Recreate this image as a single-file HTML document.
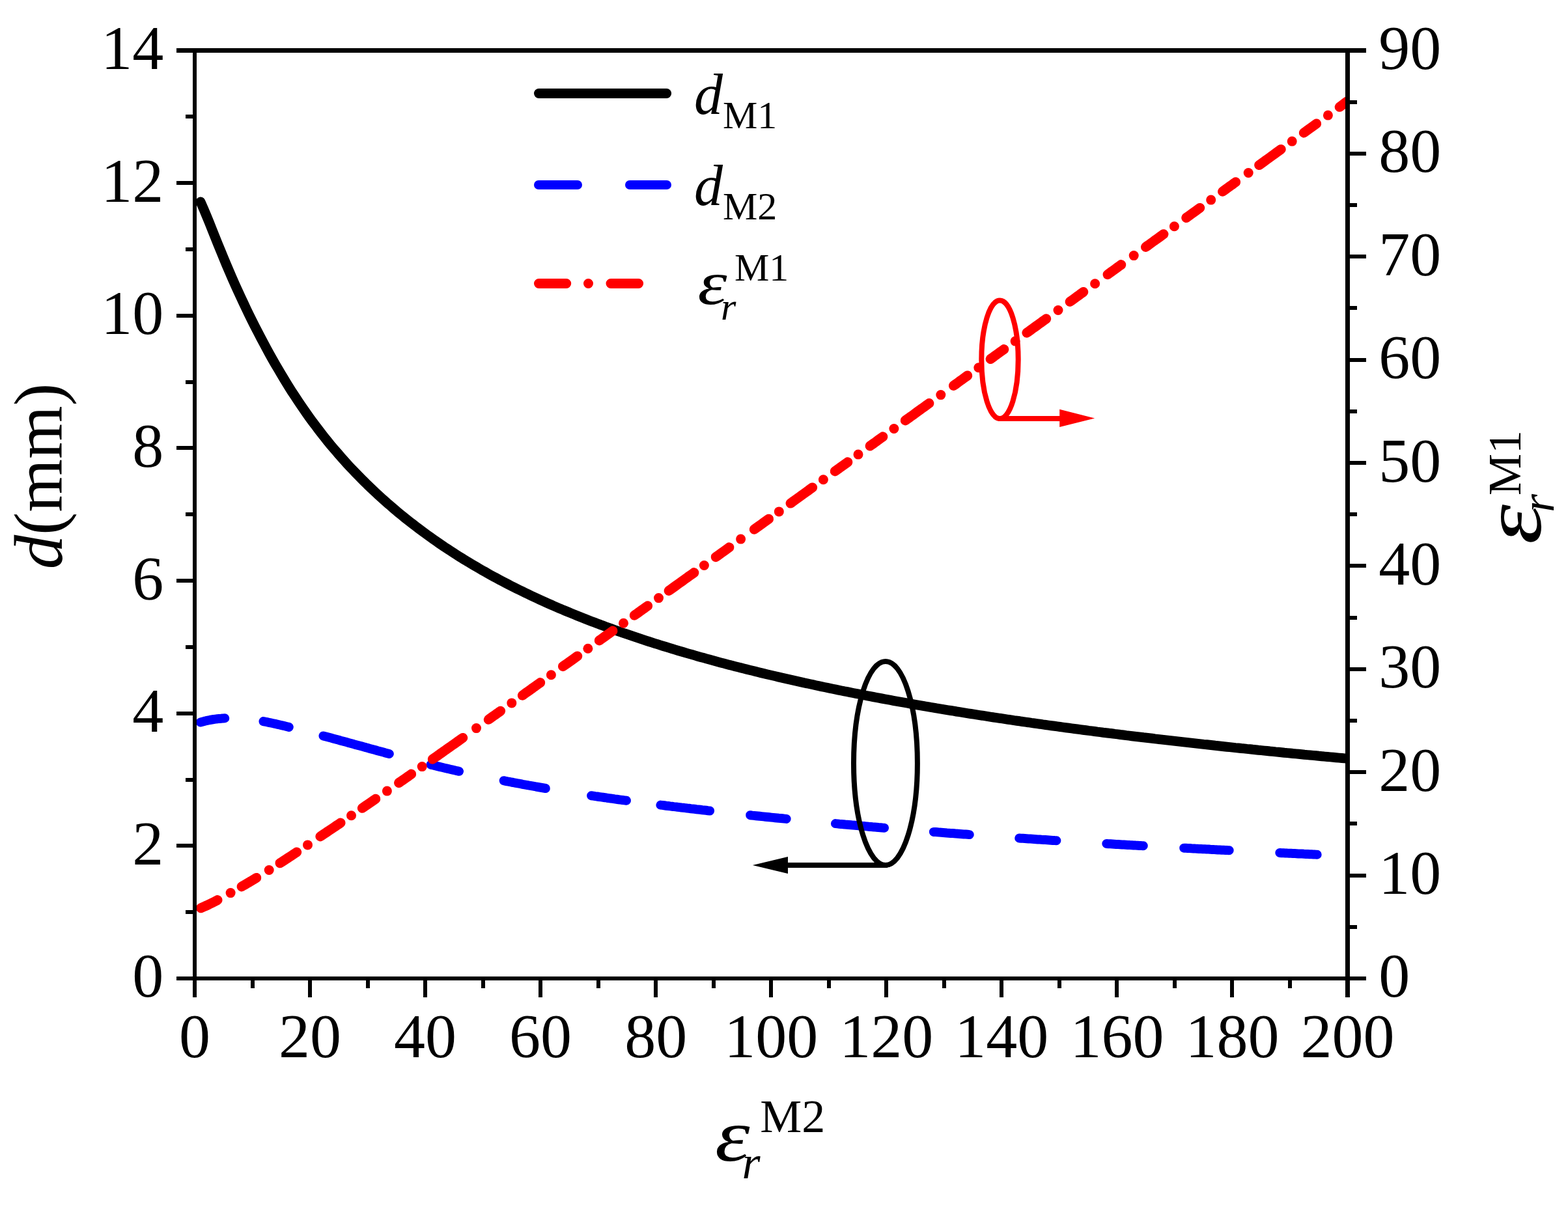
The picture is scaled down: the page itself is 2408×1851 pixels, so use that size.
<!DOCTYPE html>
<html><head><meta charset="utf-8"><title>d and epsilon vs epsilon_r M2</title>
<style>
html,body{margin:0;padding:0;background:#fff;overflow:hidden;}
svg{display:block;}
text{font-family:"Liberation Serif","Times New Roman",serif;fill:#000;}
.it{font-style:italic;}
</style></head><body>
<svg width="2408" height="1851" viewBox="0 0 2408 1851">
<rect x="0" y="0" width="2408" height="1851" fill="#fff"/>
<defs><clipPath id="plot"><rect x="299.0" y="77.5" width="1770.5" height="1425.5"/></clipPath></defs>

<g clip-path="url(#plot)" fill="none" stroke-linecap="round" stroke-linejoin="round" stroke-width="15">
<path stroke="#000" d="M307.9,310.1 L312.3,320.1 L316.7,330.5 L321.1,341.2 L325.5,352.2 L329.9,363.2 L334.3,374.3 L338.8,385.2 L343.2,395.9 L347.6,406.5 L352.0,416.8 L356.4,427.0 L360.8,437.0 L365.2,446.7 L369.7,456.4 L374.1,465.8 L378.5,475.1 L382.9,484.2 L387.3,493.1 L391.7,501.9 L396.2,510.5 L400.6,519.0 L405.0,527.3 L409.4,535.5 L413.8,543.6 L418.2,551.5 L422.6,559.2 L427.1,566.8 L431.5,574.3 L435.9,581.7 L440.3,588.9 L444.7,595.9 L449.1,602.9 L453.6,609.7 L458.0,616.3 L462.4,622.9 L466.8,629.3 L471.2,635.6 L475.6,641.8 L480.0,647.9 L484.5,653.8 L488.9,659.6 L493.3,665.3 L497.7,671.0 L502.1,676.5 L506.5,681.9 L510.9,687.2 L515.4,692.4 L519.8,697.5 L524.2,702.6 L528.6,707.5 L533.0,712.4 L537.4,717.2 L541.9,721.9 L546.3,726.5 L550.7,731.0 L555.1,735.5 L559.5,739.9 L563.9,744.3 L568.3,748.5 L572.8,752.7 L577.2,756.9 L581.6,761.0 L586.0,765.0 L590.4,768.9 L594.8,772.8 L599.3,776.7 L603.7,780.5 L608.1,784.2 L612.5,787.9 L616.9,791.5 L621.3,795.1 L625.7,798.6 L630.2,802.1 L634.6,805.5 L639.0,808.9 L643.4,812.3 L647.8,815.6 L652.2,818.8 L656.6,822.0 L661.1,825.2 L665.5,828.3 L669.9,831.4 L674.3,834.5 L678.7,837.5 L683.1,840.5 L687.6,843.4 L692.0,846.3 L696.4,849.1 L700.8,852.0 L705.2,854.8 L709.6,857.5 L714.0,860.3 L718.5,862.9 L722.9,865.6 L727.3,868.2 L731.7,870.8 L736.1,873.4 L740.5,875.9 L745.0,878.4 L749.4,880.9 L753.8,883.4 L758.2,885.8 L762.6,888.2 L767.0,890.6 L771.4,892.9 L775.9,895.2 L780.3,897.5 L784.7,899.8 L789.1,902.0 L793.5,904.2 L797.9,906.4 L802.4,908.6 L806.8,910.7 L811.2,912.8 L815.6,914.9 L820.0,917.0 L824.4,919.1 L828.8,921.1 L833.3,923.1 L837.7,925.1 L842.1,927.1 L846.5,929.0 L850.9,931.0 L855.3,932.9 L859.7,934.8 L864.2,936.6 L868.6,938.5 L873.0,940.3 L877.4,942.1 L881.8,943.9 L886.2,945.7 L890.7,947.5 L895.1,949.2 L899.5,951.0 L903.9,952.7 L908.3,954.4 L912.7,956.1 L917.1,957.8 L921.6,959.4 L926.0,961.1 L930.4,962.7 L934.8,964.3 L939.2,965.9 L943.6,967.5 L948.1,969.1 L952.5,970.6 L956.9,972.2 L961.3,973.7 L965.7,975.2 L970.1,976.7 L974.5,978.2 L979.0,979.7 L983.4,981.2 L987.8,982.6 L992.2,984.1 L996.6,985.5 L1001.0,986.9 L1005.4,988.3 L1009.9,989.7 L1014.3,991.1 L1018.7,992.5 L1023.1,993.8 L1027.5,995.2 L1031.9,996.5 L1036.4,997.9 L1040.8,999.2 L1045.2,1000.5 L1049.6,1001.8 L1054.0,1003.1 L1058.4,1004.4 L1062.8,1005.6 L1067.3,1006.9 L1071.7,1008.2 L1076.1,1009.4 L1080.5,1010.6 L1084.9,1011.9 L1089.3,1013.1 L1093.8,1014.3 L1098.2,1015.5 L1102.6,1016.7 L1107.0,1017.9 L1111.4,1019.0 L1115.8,1020.2 L1120.2,1021.4 L1124.7,1022.5 L1129.1,1023.7 L1133.5,1024.8 L1137.9,1025.9 L1142.3,1027.0 L1146.7,1028.1 L1151.1,1029.2 L1155.6,1030.3 L1160.0,1031.4 L1164.4,1032.5 L1168.8,1033.6 L1173.2,1034.6 L1177.6,1035.7 L1182.1,1036.8 L1186.5,1037.8 L1190.9,1038.8 L1195.3,1039.9 L1199.7,1040.9 L1204.1,1041.9 L1208.5,1042.9 L1213.0,1043.9 L1217.4,1044.9 L1221.8,1045.9 L1226.2,1046.9 L1230.6,1047.9 L1235.0,1048.9 L1239.5,1049.8 L1243.9,1050.8 L1248.3,1051.7 L1252.7,1052.7 L1257.1,1053.6 L1261.5,1054.6 L1265.9,1055.5 L1270.4,1056.4 L1274.8,1057.3 L1279.2,1058.3 L1283.6,1059.2 L1288.0,1060.1 L1292.4,1061.0 L1296.8,1061.9 L1301.3,1062.7 L1305.7,1063.6 L1310.1,1064.5 L1314.5,1065.4 L1318.9,1066.2 L1323.3,1067.1 L1327.8,1068.0 L1332.2,1068.8 L1336.6,1069.7 L1341.0,1070.5 L1345.4,1071.3 L1349.8,1072.2 L1354.2,1073.0 L1358.7,1073.8 L1363.1,1074.6 L1367.5,1075.4 L1371.9,1076.3 L1376.3,1077.1 L1380.7,1077.9 L1385.2,1078.7 L1389.6,1079.4 L1394.0,1080.2 L1398.4,1081.0 L1402.8,1081.8 L1407.2,1082.6 L1411.6,1083.3 L1416.1,1084.1 L1420.5,1084.9 L1424.9,1085.6 L1429.3,1086.4 L1433.7,1087.1 L1438.1,1087.9 L1442.5,1088.6 L1447.0,1089.3 L1451.4,1090.1 L1455.8,1090.8 L1460.2,1091.5 L1464.6,1092.2 L1469.0,1093.0 L1473.5,1093.7 L1477.9,1094.4 L1482.3,1095.1 L1486.7,1095.8 L1491.1,1096.5 L1495.5,1097.2 L1499.9,1097.9 L1504.4,1098.6 L1508.8,1099.2 L1513.2,1099.9 L1517.6,1100.6 L1522.0,1101.3 L1526.4,1102.0 L1530.9,1102.6 L1535.3,1103.3 L1539.7,1103.9 L1544.1,1104.6 L1548.5,1105.3 L1552.9,1105.9 L1557.3,1106.6 L1561.8,1107.2 L1566.2,1107.8 L1570.6,1108.5 L1575.0,1109.1 L1579.4,1109.7 L1583.8,1110.4 L1588.2,1111.0 L1592.7,1111.6 L1597.1,1112.2 L1601.5,1112.9 L1605.9,1113.5 L1610.3,1114.1 L1614.7,1114.7 L1619.2,1115.3 L1623.6,1115.9 L1628.0,1116.5 L1632.4,1117.1 L1636.8,1117.7 L1641.2,1118.3 L1645.6,1118.9 L1650.1,1119.5 L1654.5,1120.0 L1658.9,1120.6 L1663.3,1121.2 L1667.7,1121.8 L1672.1,1122.4 L1676.6,1122.9 L1681.0,1123.5 L1685.4,1124.1 L1689.8,1124.6 L1694.2,1125.2 L1698.6,1125.7 L1703.0,1126.3 L1707.5,1126.8 L1711.9,1127.4 L1716.3,1127.9 L1720.7,1128.5 L1725.1,1129.0 L1729.5,1129.6 L1733.9,1130.1 L1738.4,1130.7 L1742.8,1131.2 L1747.2,1131.7 L1751.6,1132.2 L1756.0,1132.8 L1760.4,1133.3 L1764.9,1133.8 L1769.3,1134.3 L1773.7,1134.9 L1778.1,1135.4 L1782.5,1135.9 L1786.9,1136.4 L1791.3,1136.9 L1795.8,1137.4 L1800.2,1137.9 L1804.6,1138.4 L1809.0,1138.9 L1813.4,1139.4 L1817.8,1139.9 L1822.3,1140.4 L1826.7,1140.9 L1831.1,1141.4 L1835.5,1141.9 L1839.9,1142.4 L1844.3,1142.9 L1848.7,1143.4 L1853.2,1143.8 L1857.6,1144.3 L1862.0,1144.8 L1866.4,1145.3 L1870.8,1145.7 L1875.2,1146.2 L1879.6,1146.7 L1884.1,1147.2 L1888.5,1147.6 L1892.9,1148.1 L1897.3,1148.6 L1901.7,1149.0 L1906.1,1149.5 L1910.6,1149.9 L1915.0,1150.4 L1919.4,1150.8 L1923.8,1151.3 L1928.2,1151.7 L1932.6,1152.2 L1937.0,1152.6 L1941.5,1153.1 L1945.9,1153.5 L1950.3,1154.0 L1954.7,1154.4 L1959.1,1154.9 L1963.5,1155.3 L1968.0,1155.7 L1972.4,1156.2 L1976.8,1156.6 L1981.2,1157.0 L1985.6,1157.5 L1990.0,1157.9 L1994.4,1158.3 L1998.9,1158.7 L2003.3,1159.2 L2007.7,1159.6 L2012.1,1160.0 L2016.5,1160.4 L2020.9,1160.8 L2025.3,1161.3 L2029.8,1161.7 L2034.2,1162.1 L2038.6,1162.5 L2043.0,1162.9 L2047.4,1163.3 L2051.8,1163.7 L2056.3,1164.1 L2060.7,1164.5 L2065.1,1164.9 L2069.5,1165.3"/>
<g stroke="#0000ff" stroke-width="14">
<path d="M307.8,1109.5 L310.7,1108.7 L313.6,1107.9 L316.5,1107.2 L319.3,1106.6 L322.2,1106.0 L325.1,1105.5 L328.0,1105.0 L330.9,1104.6 L333.8,1104.2 L336.6,1103.9 L339.5,1103.7 L342.4,1103.4 L345.3,1103.3"/>
<path d="M404.4,1108.1 L407.2,1108.7 L410.0,1109.2 L412.8,1109.8 L415.7,1110.4 L418.5,1111.0 L421.3,1111.6 L424.1,1112.2 L426.9,1112.9 L429.7,1113.5 L432.5,1114.2 L435.4,1114.8 L438.2,1115.5 L441.0,1116.2 L443.8,1116.9"/>
<path d="M496.5,1130.4 L499.5,1131.2 L502.5,1132.0 L505.4,1132.8 L508.4,1133.6 L511.4,1134.4 L514.4,1135.2 L517.4,1136.0 L520.3,1136.8 L523.3,1137.7 L526.3,1138.5 L529.3,1139.3 L532.3,1140.1 L535.2,1140.9 L538.2,1141.7 L541.2,1142.5 L544.2,1143.4 L547.1,1144.2 L550.1,1145.0 L553.1,1145.8 L556.1,1146.6 L559.1,1147.4 L562.0,1148.3 L565.0,1149.1 L568.0,1149.9 L571.0,1150.7 L574.0,1151.5 L576.9,1152.3 L579.9,1153.2 L582.9,1154.0 L585.9,1154.8 L588.9,1155.6 L591.8,1156.4 L594.8,1157.2 L597.8,1158.0"/>
<path d="M661.5,1174.6 L664.4,1175.3 L667.3,1176.0 L670.2,1176.7 L673.1,1177.4 L676.0,1178.1 L678.9,1178.8 L681.8,1179.5 L684.7,1180.2 L687.6,1180.8 L690.5,1181.5 L693.4,1182.2 L696.3,1182.8 L699.2,1183.5 L702.1,1184.2 L705.0,1184.8"/>
<path d="M773.6,1199.2 L776.5,1199.8 L779.4,1200.4 L782.4,1200.9 L785.3,1201.5 L788.2,1202.0 L791.1,1202.6 L794.1,1203.2 L797.0,1203.7 L799.9,1204.2 L802.8,1204.8 L805.8,1205.3 L808.7,1205.8 L811.6,1206.4 L814.5,1206.9 L817.4,1207.4 L820.4,1207.9 L823.3,1208.5 L826.2,1209.0 L829.1,1209.5 L832.1,1210.0 L835.0,1210.5 L837.9,1211.0"/>
<path d="M908.1,1222.2 L911.1,1222.6 L914.1,1223.1 L917.1,1223.5 L920.1,1224.0 L923.1,1224.4 L926.1,1224.8 L929.1,1225.2 L932.1,1225.7 L935.0,1226.1 L938.0,1226.5 L941.0,1226.9 L944.0,1227.4 L947.0,1227.8 L950.0,1228.2 L953.0,1228.6 L956.0,1229.0 L959.0,1229.4 L962.0,1229.8"/>
<path d="M1014.4,1236.6 L1017.3,1236.9 L1020.2,1237.3 L1023.1,1237.7 L1026.0,1238.0 L1029.0,1238.4 L1031.9,1238.7 L1034.8,1239.1 L1037.7,1239.4 L1040.6,1239.8 L1043.5,1240.1 L1046.4,1240.5 L1049.3,1240.8 L1052.2,1241.1 L1055.2,1241.5 L1058.1,1241.8 L1061.0,1242.2 L1063.9,1242.5 L1066.8,1242.8 L1069.7,1243.2 L1072.6,1243.5 L1075.5,1243.8 L1078.5,1244.2 L1081.4,1244.5 L1084.3,1244.8 L1087.2,1245.2 L1090.1,1245.5"/>
<path d="M1152.2,1252.2 L1155.1,1252.6 L1158.0,1252.9 L1161.0,1253.2 L1163.9,1253.5 L1166.8,1253.8 L1169.7,1254.1 L1172.6,1254.4 L1175.6,1254.7 L1178.5,1255.0 L1181.4,1255.3 L1184.3,1255.6 L1187.3,1255.9 L1190.2,1256.2 L1193.1,1256.5 L1196.0,1256.8 L1198.9,1257.0 L1201.9,1257.3 L1204.8,1257.6 L1207.7,1257.9"/>
<path d="M1283.0,1265.1 L1286.0,1265.4 L1289.0,1265.7 L1292.0,1265.9 L1295.0,1266.2 L1298.0,1266.5 L1301.0,1266.7 L1304.0,1267.0 L1307.0,1267.3 L1310.0,1267.6 L1313.0,1267.8 L1316.0,1268.1 L1319.0,1268.4 L1322.0,1268.6 L1325.0,1268.9 L1328.0,1269.1 L1331.0,1269.4 L1334.0,1269.7 L1337.0,1269.9 L1340.0,1270.2 L1343.0,1270.4 L1346.0,1270.7 L1349.0,1271.0 L1352.0,1271.2 L1355.0,1271.5 L1358.0,1271.7"/>
<path d="M1433.9,1277.9 L1436.8,1278.1 L1439.7,1278.3 L1442.6,1278.6 L1445.5,1278.8 L1448.3,1279.0 L1451.2,1279.2 L1454.1,1279.5 L1457.0,1279.7 L1459.9,1279.9 L1462.8,1280.1 L1465.7,1280.3 L1468.6,1280.6 L1471.5,1280.8 L1474.4,1281.0 L1477.2,1281.2 L1480.1,1281.4 L1483.0,1281.6 L1485.9,1281.8 L1488.8,1282.1"/>
<path d="M1565.2,1287.5 L1568.1,1287.7 L1570.9,1287.8 L1573.8,1288.0 L1576.6,1288.2 L1579.5,1288.4 L1582.4,1288.6 L1585.2,1288.8 L1588.1,1289.0 L1590.9,1289.2 L1593.8,1289.4 L1596.7,1289.6 L1599.5,1289.8 L1602.4,1289.9 L1605.2,1290.1 L1608.1,1290.3 L1611.0,1290.5 L1613.8,1290.7 L1616.7,1290.9 L1619.5,1291.1 L1622.4,1291.2"/>
<path d="M1699.3,1296.0 L1702.3,1296.2 L1705.2,1296.3 L1708.2,1296.5 L1711.2,1296.7 L1714.2,1296.9 L1717.1,1297.0 L1720.1,1297.2 L1723.1,1297.4 L1726.1,1297.5 L1729.0,1297.7 L1732.0,1297.9 L1735.0,1298.1 L1738.0,1298.2 L1740.9,1298.4 L1743.9,1298.6 L1746.9,1298.7 L1749.9,1298.9 L1752.8,1299.1 L1755.8,1299.2"/>
<path d="M1818.2,1302.7 L1821.1,1302.8 L1824.0,1303.0 L1826.9,1303.1 L1829.8,1303.3 L1832.7,1303.4 L1835.6,1303.6 L1838.5,1303.7 L1841.4,1303.9 L1844.3,1304.0 L1847.2,1304.2 L1850.1,1304.3 L1853.0,1304.5 L1855.8,1304.6 L1858.7,1304.8 L1861.6,1304.9 L1864.5,1305.1 L1867.4,1305.2 L1870.3,1305.4 L1873.2,1305.5 L1876.1,1305.7 L1879.0,1305.8 L1881.9,1305.9 L1884.8,1306.1 L1887.7,1306.2"/>
<path d="M1965.3,1310.0 L1968.2,1310.2 L1971.0,1310.3 L1973.9,1310.4 L1976.8,1310.6 L1979.7,1310.7 L1982.5,1310.8 L1985.4,1311.0 L1988.3,1311.1 L1991.1,1311.2 L1994.0,1311.4 L1996.9,1311.5 L1999.7,1311.6 L2002.6,1311.8 L2005.5,1311.9 L2008.3,1312.0 L2011.2,1312.2 L2014.1,1312.3 L2017.0,1312.4 L2019.8,1312.6 L2022.7,1312.7"/>
</g>
<g stroke="#ff0000">
<path d="M308.4,1394.8 L311.2,1393.6 L314.1,1392.4 L316.9,1391.1 L319.8,1389.8 L322.6,1388.4 L325.5,1387.0 L328.3,1385.6 L331.2,1384.1 L334.0,1382.6"/>
<path d="M371.1,1361.9 L373.9,1360.2 L376.8,1358.6 L379.6,1356.9 L382.5,1355.2 L385.3,1353.6 L388.1,1351.9 L391.0,1350.1 L393.8,1348.4"/>
<path d="M430.0,1325.8 L432.9,1323.9 L435.7,1322.1 L438.6,1320.2 L441.4,1318.4 L444.3,1316.5 L447.1,1314.7 L450.0,1312.8 L452.8,1310.9 L455.7,1309.0"/>
<path d="M491.9,1284.9 L494.7,1283.0 L497.6,1281.1 L500.4,1279.2 L503.2,1277.3 L506.0,1275.4 L508.9,1273.5 L511.7,1271.6 L514.5,1269.7 L517.3,1267.8 L520.2,1265.9 L523.0,1264.0"/>
<path d="M556.3,1241.3 L559.2,1239.3 L562.2,1237.3 L565.1,1235.3 L568.0,1233.3 L570.9,1231.3 L573.9,1229.3 L576.8,1227.2"/>
<path d="M612.5,1202.5 L615.2,1200.6 L618.0,1198.7 L620.7,1196.8 L623.5,1194.9 L626.2,1193.0 L629.0,1191.0 L631.7,1189.1"/>
<path d="M664.3,1166.2 L667.2,1164.2 L670.1,1162.2 L673.0,1160.1 L675.9,1158.0 L678.8,1156.0 L681.7,1153.9 L684.6,1151.9 L687.5,1149.8 L690.5,1147.8 L693.4,1145.7 L696.3,1143.7 L699.2,1141.6 L702.1,1139.5 L705.0,1137.5 L707.9,1135.4 L710.8,1133.4"/>
<path d="M750.3,1105.3 L752.9,1103.4 L755.5,1101.5 L758.1,1099.7 L760.8,1097.8 L763.4,1095.9 L766.0,1094.1 L768.6,1092.2"/>
<path d="M802.3,1068.2 L805.0,1066.2 L807.8,1064.2 L810.5,1062.3 L813.3,1060.3 L816.0,1058.4 L818.7,1056.4 L821.5,1054.5 L824.2,1052.5 L827.0,1050.5 L829.7,1048.6"/>
<path d="M864.5,1023.7 L867.3,1021.7 L870.0,1019.8 L872.8,1017.8 L875.6,1015.8 L878.4,1013.8 L881.2,1011.8 L883.9,1009.9 L886.7,1007.9"/>
<path d="M920.3,983.9 L923.3,981.7 L926.2,979.6 L929.2,977.5 L932.1,975.4 L935.1,973.3 L938.0,971.2 L941.0,969.1"/>
<path d="M974.3,945.2 L977.2,943.2 L980.1,941.1 L983.0,939.0 L985.9,936.9 L988.8,934.9 L991.7,932.8 L994.6,930.7"/>
<path d="M1027.1,907.4 L1030.1,905.3 L1033.1,903.1 L1036.1,901.0 L1039.0,898.9 L1042.0,896.7 L1045.0,894.6 L1048.0,892.5 L1051.0,890.3 L1054.0,888.2 L1056.9,886.0 L1059.9,883.9 L1062.9,881.8 L1065.9,879.6"/>
<path d="M1099.2,855.7 L1102.2,853.6 L1105.1,851.5 L1108.1,849.3 L1111.0,847.2 L1114.0,845.1 L1116.9,843.0 L1119.9,840.8"/>
<path d="M1158.3,813.2 L1161.1,811.2 L1163.9,809.2 L1166.7,807.2 L1169.4,805.2 L1172.2,803.2 L1175.0,801.2 L1177.8,799.2 L1180.6,797.2"/>
<path d="M1214.1,773.1 L1216.9,771.1 L1219.7,769.0 L1222.5,767.0 L1225.3,765.0 L1228.1,763.0 L1230.8,761.0 L1233.6,759.0 L1236.4,757.0 L1239.2,755.0 L1242.0,752.9 L1244.8,750.9 L1247.6,748.9"/>
<path d="M1282.3,723.9 L1285.1,721.9 L1287.9,719.9 L1290.7,717.8 L1293.5,715.8 L1296.3,713.8 L1299.1,711.8 L1301.9,709.8"/>
<path d="M1336.1,685.1 L1338.9,683.0 L1341.8,681.0 L1344.6,679.0 L1347.4,676.9 L1350.2,674.9 L1353.1,672.8 L1355.9,670.8"/>
<path d="M1390.3,645.9 L1393.1,643.9 L1395.9,641.9 L1398.7,639.8 L1401.6,637.8 L1404.4,635.8 L1407.2,633.7 L1410.0,631.7 L1412.8,629.7 L1415.6,627.6 L1418.5,625.6 L1421.3,623.6 L1424.1,621.5 L1426.9,619.5"/>
<path d="M1464.4,592.4 L1467.1,590.5 L1469.8,588.6 L1472.4,586.6 L1475.1,584.7 L1477.8,582.8 L1480.5,580.8 L1483.1,578.9 L1485.8,577.0"/>
<path d="M1521.1,551.5 L1524.1,549.4 L1527.0,547.2 L1530.0,545.1 L1532.9,543.0 L1535.9,540.8 L1538.8,538.7 L1541.8,536.6"/>
<path d="M1576.9,511.2 L1579.9,509.1 L1582.9,506.9 L1585.8,504.8 L1588.8,502.6 L1591.8,500.5 L1594.8,498.3 L1597.8,496.2 L1600.7,494.0 L1603.7,491.9 L1606.7,489.7"/>
<path d="M1643.1,463.4 L1646.1,461.3 L1649.0,459.2 L1652.0,457.0 L1654.9,454.9 L1657.9,452.8 L1660.8,450.6 L1663.8,448.5"/>
<path d="M1701.0,421.7 L1704.0,419.5 L1706.9,417.4 L1709.9,415.2 L1712.9,413.1 L1715.9,410.9 L1718.8,408.8 L1721.8,406.6"/>
<path d="M1759.5,379.4 L1762.2,377.5 L1765.0,375.5 L1767.7,373.5 L1770.5,371.5 L1773.2,369.5 L1775.9,367.6 L1778.7,365.6 L1781.4,363.6 L1784.2,361.6 L1786.9,359.7"/>
<path d="M1821.7,334.5 L1824.7,332.4 L1827.7,330.2 L1830.7,328.0 L1833.7,325.9 L1836.7,323.7 L1839.7,321.5 L1842.7,319.4"/>
<path d="M1877.5,294.2 L1880.4,292.1 L1883.2,290.1 L1886.1,288.0 L1889.0,285.9 L1891.9,283.9 L1894.7,281.8 L1897.6,279.7"/>
<path d="M1933.7,253.6 L1936.5,251.6 L1939.3,249.6 L1942.1,247.6 L1944.9,245.5 L1947.7,243.5 L1950.5,241.5 L1953.2,239.5 L1956.0,237.5 L1958.8,235.4 L1961.6,233.4 L1964.4,231.4 L1967.2,229.4"/>
<path d="M2002.3,204.0 L2005.1,202.0 L2007.8,200.0 L2010.6,198.0 L2013.4,196.0 L2016.2,194.0 L2018.9,192.0 L2021.7,190.0"/>
<path d="M2057.2,164.3 L2059.7,162.5 L2062.1,160.7 L2064.6,158.9 L2067.0,157.1 L2069.5,155.3"/>
<path d="M354.1,1371.6 l0.01,0"/>
<path d="M413.2,1336.5 l0.01,0"/>
<path d="M472.5,1297.9 l0.01,0"/>
<path d="M539.5,1252.8 l0.01,0"/>
<path d="M594.4,1215.1 l0.01,0"/>
<path d="M648.2,1177.6 l0.01,0"/>
<path d="M731.5,1118.6 l0.01,0"/>
<path d="M785.8,1079.9 l0.01,0"/>
<path d="M846.4,1036.7 l0.01,0"/>
<path d="M902.9,996.3 l0.01,0"/>
<path d="M957.5,957.3 l0.01,0"/>
<path d="M1011.5,918.6 l0.01,0"/>
<path d="M1081.4,868.5 l0.01,0"/>
<path d="M1137.6,828.1 l0.01,0"/>
<path d="M1196.3,785.9 l0.01,0"/>
<path d="M1264.4,736.8 l0.01,0"/>
<path d="M1318.0,698.1 l0.01,0"/>
<path d="M1372.9,658.5 l0.01,0"/>
<path d="M1444.8,606.6 l0.01,0"/>
<path d="M1502.8,564.7 l0.01,0"/>
<path d="M1559.1,524.1 l0.01,0"/>
<path d="M1625.0,476.5 l0.01,0"/>
<path d="M1681.6,435.7 l0.01,0"/>
<path d="M1741.2,392.6 l0.01,0"/>
<path d="M1803.4,347.7 l0.01,0"/>
<path d="M1859.7,307.1 l0.01,0"/>
<path d="M1917.2,265.5 l0.01,0"/>
<path d="M1984.2,217.1 l0.01,0"/>
<path d="M2039.4,177.1 l0.01,0"/>
</g>
</g>
<g fill="#000" shape-rendering="crispEdges">
<rect x="271" y="74" width="1827" height="7"/>
<rect x="271" y="1500" width="1827" height="6"/>
<rect x="296" y="74" width="6" height="1458"/>
<rect x="2066" y="74" width="7" height="1458"/>
<rect x="271" y="1500" width="28" height="6"/>
<rect x="285" y="1398" width="14" height="6"/>
<rect x="271" y="1296" width="28" height="6"/>
<rect x="285" y="1195" width="14" height="6"/>
<rect x="271" y="1093" width="28" height="6"/>
<rect x="285" y="991" width="14" height="6"/>
<rect x="271" y="889" width="28" height="6"/>
<rect x="285" y="787" width="14" height="6"/>
<rect x="271" y="685" width="28" height="6"/>
<rect x="285" y="584" width="14" height="6"/>
<rect x="271" y="482" width="28" height="6"/>
<rect x="285" y="380" width="14" height="6"/>
<rect x="271" y="278" width="28" height="6"/>
<rect x="285" y="176" width="14" height="6"/>
<rect x="271" y="74" width="28" height="6"/>
<rect x="2069" y="1500" width="29" height="6"/>
<rect x="2069" y="1421" width="15" height="6"/>
<rect x="2069" y="1342" width="29" height="6"/>
<rect x="2069" y="1262" width="15" height="6"/>
<rect x="2069" y="1183" width="29" height="6"/>
<rect x="2069" y="1104" width="15" height="6"/>
<rect x="2069" y="1025" width="29" height="6"/>
<rect x="2069" y="946" width="15" height="6"/>
<rect x="2069" y="866" width="29" height="6"/>
<rect x="2069" y="787" width="15" height="6"/>
<rect x="2069" y="708" width="29" height="6"/>
<rect x="2069" y="629" width="15" height="6"/>
<rect x="2069" y="550" width="29" height="6"/>
<rect x="2069" y="470" width="15" height="6"/>
<rect x="2069" y="391" width="29" height="6"/>
<rect x="2069" y="312" width="15" height="6"/>
<rect x="2069" y="233" width="29" height="6"/>
<rect x="2069" y="154" width="15" height="6"/>
<rect x="2069" y="74" width="29" height="6"/>
<rect x="296" y="1503" width="6" height="29"/>
<rect x="385" y="1503" width="6" height="15"/>
<rect x="473" y="1503" width="6" height="29"/>
<rect x="562" y="1503" width="6" height="15"/>
<rect x="650" y="1503" width="6" height="29"/>
<rect x="739" y="1503" width="6" height="15"/>
<rect x="827" y="1503" width="6" height="29"/>
<rect x="916" y="1503" width="6" height="15"/>
<rect x="1004" y="1503" width="6" height="29"/>
<rect x="1093" y="1503" width="6" height="15"/>
<rect x="1181" y="1503" width="6" height="29"/>
<rect x="1270" y="1503" width="6" height="15"/>
<rect x="1358" y="1503" width="6" height="29"/>
<rect x="1447" y="1503" width="6" height="15"/>
<rect x="1535" y="1503" width="6" height="29"/>
<rect x="1624" y="1503" width="6" height="15"/>
<rect x="1712" y="1503" width="6" height="29"/>
<rect x="1801" y="1503" width="6" height="15"/>
<rect x="1889" y="1503" width="6" height="29"/>
<rect x="1978" y="1503" width="6" height="15"/>
<rect x="2066" y="1503" width="6" height="29"/>
</g>
<g fill="none" stroke-width="8">
<ellipse cx="1359.95" cy="1172.4" rx="48.95" ry="156.5" stroke="#000"/>
<path d="M1363,1328.9 H1205" stroke="#000"/>
<path d="M1155.8,1329.1 L1210,1316 L1210,1342 Z" fill="#000" stroke="none"/>
<ellipse cx="1535.5" cy="552.25" rx="28.2" ry="90.75" stroke="#ff0000"/>
<path d="M1533,643.1 H1632" stroke="#ff0000"/>
<path d="M1681.2,642.6 L1627.2,628.8 L1627.2,656 Z" fill="#ff0000" stroke="none"/>
</g>
<g fill="none" stroke-linecap="round" stroke-width="15">
<path d="M827.5,143.5 H1023.6" stroke="#000"/>
<path d="M827,283.95 H887 M967,283.95 H1024" stroke="#0000ff" stroke-width="14"/>
<path d="M827.5,435.5 H869.7 M903.5,435.5 h0.01 M938,435.5 H980.6" stroke="#ff0000"/>
</g>
<g font-size="96">
<text x="251.3" y="1531.4" text-anchor="end">0</text>
<text x="251.3" y="1327.8" text-anchor="end">2</text>
<text x="251.3" y="1124.1" text-anchor="end">4</text>
<text x="251.3" y="920.5" text-anchor="end">6</text>
<text x="251.3" y="716.8" text-anchor="end">8</text>
<text x="251.3" y="513.2" text-anchor="end">10</text>
<text x="251.3" y="309.5" text-anchor="end">12</text>
<text x="251.3" y="105.9" text-anchor="end">14</text>
<text x="2117.2" y="1531.4">0</text>
<text x="2117.2" y="1373.0">10</text>
<text x="2117.2" y="1214.6">20</text>
<text x="2117.2" y="1056.2">30</text>
<text x="2117.2" y="897.8">40</text>
<text x="2117.2" y="739.5">50</text>
<text x="2117.2" y="581.1">60</text>
<text x="2117.2" y="422.7">70</text>
<text x="2117.2" y="264.3">80</text>
<text x="2117.2" y="105.9">90</text>
<text x="299.0" y="1623.8" text-anchor="middle">0</text>
<text x="476.1" y="1623.8" text-anchor="middle">20</text>
<text x="653.1" y="1623.8" text-anchor="middle">40</text>
<text x="830.1" y="1623.8" text-anchor="middle">60</text>
<text x="1007.2" y="1623.8" text-anchor="middle">80</text>
<text x="1184.2" y="1623.8" text-anchor="middle">100</text>
<text x="1361.3" y="1623.8" text-anchor="middle">120</text>
<text x="1538.3" y="1623.8" text-anchor="middle">140</text>
<text x="1715.4" y="1623.8" text-anchor="middle">160</text>
<text x="1892.5" y="1623.8" text-anchor="middle">180</text>
<text x="2069.5" y="1623.8" text-anchor="middle">200</text>
</g>
<text x="1066" y="174.9" font-size="88"><tspan class="it">d</tspan><tspan font-size="60" dy="22.2">M1</tspan></text>
<text x="1066" y="315.1" font-size="88"><tspan class="it">d</tspan><tspan font-size="60" dy="22.2">M2</tspan></text>
<text x="1071.5" y="467.4" font-size="95" class="it" textLength="45" lengthAdjust="spacingAndGlyphs">ε</text>
<text x="1107" y="490.7" font-size="60" class="it">r</text>
<text x="1128" y="430.6" font-size="60">M1</text>
<text transform="translate(95.2,874.2) rotate(-90)" font-size="105"><tspan class="it">d</tspan>(mm)</text>
<text x="1098" y="1782.8" font-size="114" class="it" textLength="53.5" lengthAdjust="spacingAndGlyphs">ε</text>
<text x="1139.5" y="1809.6" font-size="72" class="it">r</text>
<text x="1167.2" y="1738.9" font-size="72">M2</text>
<g transform="translate(2366,836) rotate(-90)"><text x="0" y="0" font-size="130" class="it" textLength="61.3" lengthAdjust="spacingAndGlyphs">ε</text>
<text x="49" y="19.7" font-size="72" class="it">r</text>
<text x="75" y="-31.2" font-size="72">M1</text></g>
</svg></body></html>
